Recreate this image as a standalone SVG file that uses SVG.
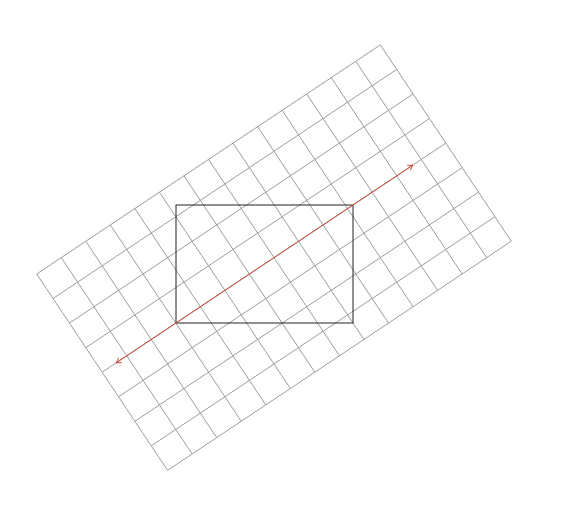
<svg xmlns="http://www.w3.org/2000/svg" width="561" height="508" viewBox="0 0 561 508">
<style>
.grid{stroke:#9c9c9c;stroke-width:0.9;fill:none}
.box{stroke:#222;stroke-width:1;fill:none}
.arr{stroke:#cc4433;stroke-width:1;fill:none}
</style>
<defs>
<marker id="ah" viewBox="-6 -4 8 8" refX="0" refY="0" markerWidth="8" markerHeight="8" markerUnits="userSpaceOnUse" orient="auto-start-reverse">
<path d="M-5,-3 Q-2,-0.5 0,0 Q-2,0.5 -5,3" fill="none" stroke="#cc4433" stroke-width="0.9"/>
</marker>
</defs>
<rect width="561" height="508" fill="#fff"/>
<g id="grid" class="grid" transform="translate(36.7,274) rotate(-33.69)">
<path d="M0,0H413M0,29.5H413M0,59H413M0,88.5H413M0,118H413M0,147.5H413M0,177H413M0,206.5H413M0,236H413"/>
<path d="M0,0V236M29.5,0V236M59,0V236M88.5,0V236M118,0V236M147.5,0V236M177,0V236M206.5,0V236M236,0V236M265.5,0V236M295,0V236M324.5,0V236M354,0V236M383.5,0V236M413,0V236"/>
</g>
<g id="frame">
<rect class="box" x="176" y="205" width="177" height="118"/>
</g>
<g id="connectors">
<line class="arr" x1="116" y1="363" x2="413" y2="165" marker-start="url(#ah)" marker-end="url(#ah)"/>
</g>
</svg>
